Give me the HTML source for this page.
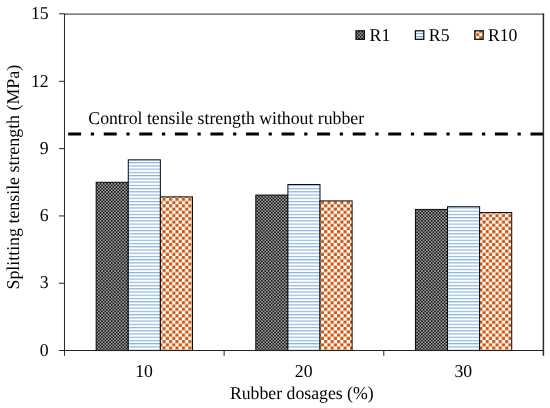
<!DOCTYPE html>
<html lang="en"><head><meta charset="utf-8"><title>Splitting tensile strength vs rubber dosages</title>
<style>html,body{margin:0;padding:0;background:#fff}body{width:550px;height:408px;overflow:hidden}svg{display:block}text{text-rendering:geometricPrecision;font-family:"Liberation Serif","Times New Roman",serif;fill:#000}</style></head><body>
<svg width="550" height="408" viewBox="0 0 550 408">
<defs>
<pattern id="p1" width="3.232" height="3.232" patternUnits="userSpaceOnUse" x="98.0" y="183.0"><rect width="3.232" height="3.232" fill="#141414"/><rect x="0" y="0" width="1.6160" height="1.6160" fill="#a4a4a4"/><rect x="1.6160" y="1.6160" width="1.6160" height="1.6160" fill="#a4a4a4"/></pattern>
<pattern id="p2" width="3.232" height="3.232" patternUnits="userSpaceOnUse" x="0" y="162.15"><rect width="3.232" height="3.232" fill="#fff"/><rect x="0" y="0" width="3.232" height="1.15" fill="#86b4e2"/></pattern>
<pattern id="p3" width="6.464" height="6.464" patternUnits="userSpaceOnUse" x="162.48" y="197.78"><rect width="6.464" height="6.464" fill="#fff"/><rect x="0.05" y="0.05" width="3.132" height="3.132" fill="#cd550b"/><rect x="3.282" y="3.282" width="3.132" height="3.132" fill="#cd550b"/></pattern>
<pattern id="q1" width="3.232" height="3.232" patternUnits="userSpaceOnUse" x="98.0" y="183.0"><rect width="3.232" height="3.232" fill="#141414"/><rect x="0" y="0" width="1.6160" height="1.6160" fill="#a4a4a4"/><rect x="1.6160" y="1.6160" width="1.6160" height="1.6160" fill="#a4a4a4"/></pattern>
<pattern id="q2" width="3.232" height="3.232" patternUnits="userSpaceOnUse" x="0" y="32.870000000000005"><rect width="3.232" height="3.232" fill="#fff"/><rect x="0" y="0" width="3.232" height="1.1" fill="#6aa3dc"/></pattern>
<pattern id="q3" width="6.464" height="6.464" patternUnits="userSpaceOnUse" x="162.48" y="197.78"><rect width="6.464" height="6.464" fill="#fff"/><rect x="0.05" y="0.05" width="3.132" height="3.132" fill="#cd550b"/><rect x="3.282" y="3.282" width="3.132" height="3.132" fill="#cd550b"/></pattern>
</defs>
<rect width="550" height="408" fill="#fff"/>
<rect x="96.17" y="182.28" width="32.10" height="168.28" fill="url(#p1)" stroke="#0a0a0a" stroke-width="1"/>
<rect x="128.27" y="159.84" width="32.10" height="190.71" fill="url(#p2)" stroke="#0a0a0a" stroke-width="1"/>
<rect x="160.37" y="196.86" width="32.10" height="153.69" fill="url(#p3)" stroke="#0a0a0a" stroke-width="1"/>
<rect x="255.80" y="195.06" width="32.10" height="155.49" fill="url(#p1)" stroke="#0a0a0a" stroke-width="1"/>
<rect x="287.90" y="184.52" width="32.10" height="166.03" fill="url(#p2)" stroke="#0a0a0a" stroke-width="1"/>
<rect x="320.00" y="200.90" width="32.10" height="149.65" fill="url(#p3)" stroke="#0a0a0a" stroke-width="1"/>
<rect x="415.43" y="209.42" width="32.10" height="141.13" fill="url(#p1)" stroke="#0a0a0a" stroke-width="1"/>
<rect x="447.53" y="206.73" width="32.10" height="143.82" fill="url(#p2)" stroke="#0a0a0a" stroke-width="1"/>
<rect x="479.63" y="212.56" width="32.10" height="137.99" fill="url(#p3)" stroke="#0a0a0a" stroke-width="1"/>
<line x1="64.5" y1="14.0" x2="544.1" y2="14.0" stroke="#555" stroke-width="1.25"/>
<line x1="543.4" y1="13.4" x2="543.4" y2="355.75" stroke="#2b2b2b" stroke-width="1.5"/>
<line x1="64.5" y1="13.5" x2="64.5" y2="355.75" stroke="#2b2b2b" stroke-width="1.05"/>
<line x1="59.0" y1="350.55" x2="543.4" y2="350.55" stroke="#222" stroke-width="1.05"/>
<line x1="59.0" y1="283.24" x2="64.5" y2="283.24" stroke="#2b2b2b" stroke-width="1.05"/>
<line x1="59.0" y1="215.93" x2="64.5" y2="215.93" stroke="#2b2b2b" stroke-width="1.05"/>
<line x1="59.0" y1="148.62" x2="64.5" y2="148.62" stroke="#2b2b2b" stroke-width="1.05"/>
<line x1="59.0" y1="81.31" x2="64.5" y2="81.31" stroke="#2b2b2b" stroke-width="1.05"/>
<line x1="59.0" y1="13.80" x2="64.5" y2="13.80" stroke="#2b2b2b" stroke-width="1.05"/>
<line x1="224.13" y1="350.55" x2="224.13" y2="355.75" stroke="#2b2b2b" stroke-width="1.05"/>
<line x1="383.77" y1="350.55" x2="383.77" y2="355.75" stroke="#2b2b2b" stroke-width="1.05"/>
<line x1="68.2" y1="134" x2="542.9" y2="134" stroke="#000" stroke-width="3.232" stroke-dasharray="12.93 9.70 3.23 9.70"/>
<text transform="translate(48.70,355.75) scale(0.985,1)" font-size="18.0" text-anchor="end">0</text>
<text transform="translate(48.70,288.44) scale(0.985,1)" font-size="18.0" text-anchor="end">3</text>
<text transform="translate(48.70,221.13) scale(0.985,1)" font-size="18.0" text-anchor="end">6</text>
<text transform="translate(48.70,153.82) scale(0.985,1)" font-size="18.0" text-anchor="end">9</text>
<text transform="translate(48.70,86.51) scale(0.985,1)" font-size="18.0" text-anchor="end">12</text>
<text transform="translate(48.70,19.20) scale(0.985,1)" font-size="18.0" text-anchor="end">15</text>
<text transform="translate(144.02,376.80) scale(0.985,1)" font-size="18.0" text-anchor="middle">10</text>
<text transform="translate(303.65,376.80) scale(0.985,1)" font-size="18.0" text-anchor="middle">20</text>
<text transform="translate(463.28,376.80) scale(0.985,1)" font-size="18.0" text-anchor="middle">30</text>
<text transform="translate(301.80,398.90) scale(0.985,1)" font-size="18.0" text-anchor="middle">Rubber dosages (%)</text>
<text transform="translate(19.30,177.20) rotate(-90) scale(0.992,1)" font-size="18.0" text-anchor="middle">Splitting tensile strength (MPa)</text>
<text transform="translate(88.30,124.20) scale(0.985,1)" font-size="18.0" text-anchor="start">Control tensile strength without rubber</text>
<rect x="356.00" y="30.8" width="8.4" height="8.5" fill="url(#q1)" stroke="#0a0a0a" stroke-width="1.25"/>
<text transform="translate(369.60,40.50) scale(0.985,1)" font-size="18.0" text-anchor="start">R1</text>
<rect x="415.40" y="30.8" width="8.4" height="8.5" fill="url(#q2)" stroke="#0a0a0a" stroke-width="1.25"/>
<text transform="translate(428.80,40.50) scale(0.985,1)" font-size="18.0" text-anchor="start">R5</text>
<rect x="474.80" y="30.8" width="8.4" height="8.5" fill="url(#q3)" stroke="#0a0a0a" stroke-width="1.25"/>
<text transform="translate(487.90,40.50) scale(0.985,1)" font-size="18.0" text-anchor="start">R10</text>
</svg></body></html>
